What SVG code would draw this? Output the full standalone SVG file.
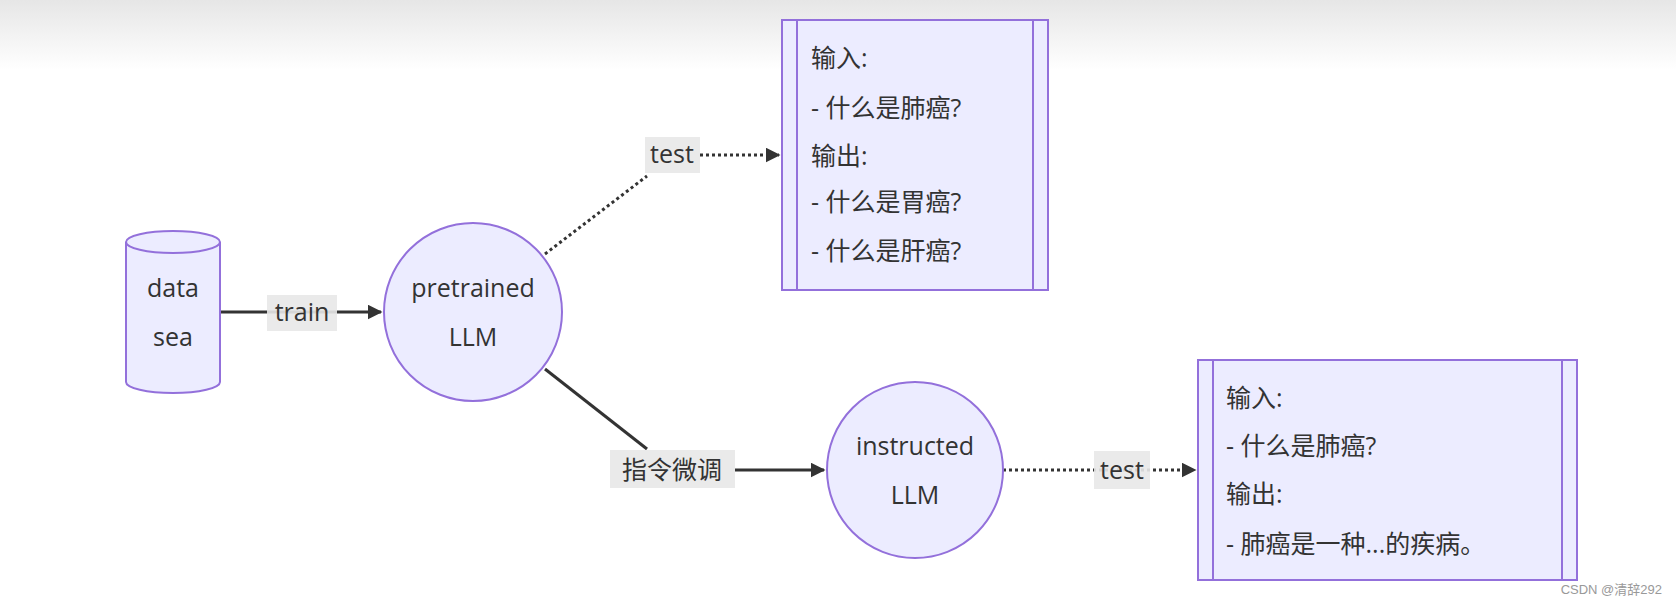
<svg xmlns="http://www.w3.org/2000/svg" width="1676" height="604" viewBox="0 0 1676 604">
<defs>
<linearGradient id="top" x1="0" y1="0" x2="0" y2="1"><stop offset="0" stop-color="#e6e6e6"/><stop offset="1" stop-color="#ffffff"/></linearGradient>
<marker id="ah" viewBox="0 0 10 10" refX="9" refY="5" markerWidth="5" markerHeight="5" orient="auto"><path d="M0,0 L10,5 L0,10 z" fill="#333"/></marker>
</defs>
<style>
.n{fill:#ECECFF;stroke:#9370DB;stroke-width:2}
.t{font-family:"Open Sans","Noto Sans","Noto Sans CJK SC",sans-serif;font-size:25px;fill:#333}
.c{text-anchor:middle}
.e{stroke:#333;stroke-width:3;fill:none}
.d{stroke-dasharray:3,3}
.lb{fill:#e8e8e8;opacity:0.9}
</style>
<rect x="0" y="0" width="1676" height="70" fill="url(#top)"/>
<rect x="0" y="70" width="1676" height="534" fill="#fff"/>
<g id="connectors">
<path class="e" d="M220,312 L381,312" marker-end="url(#ah)"/>
<path class="e d" d="M545,254 L647,176"/>
<path class="e d" d="M700,155 L779,155" marker-end="url(#ah)"/>
<path class="e" d="M545,369 L647,449"/>
<path class="e" d="M735,470 L824,470" marker-end="url(#ah)"/>
<path class="e d" d="M1003,470 L1195,470" marker-end="url(#ah)"/>
<rect class="lb" x="267" y="295" width="70" height="36"/>
<text class="t c" x="302" y="321">train</text>
<rect class="lb" x="645" y="137" width="55" height="36"/>
<text class="t c" x="672" y="163">test</text>
<rect class="lb" x="610" y="450" width="125" height="38"/>
<text class="t c" x="672" y="479">指令微调</text>
<rect class="lb" x="1094" y="451" width="56" height="38"/>
<text class="t c" x="1122" y="479">test</text>
</g>
<g id="data_sea">
<path class="n" d="M126,242 A47,11 0 0 1 220,242 L220,382 A47,11 0 0 1 126,382 Z"/>
<path class="n" d="M126,242 A47,11 0 0 0 220,242" fill="none"/>
<text class="t c" x="173" y="297">data</text>
<text class="t c" x="173" y="346">sea</text>
</g>
<g id="pretrained">
<circle class="n" cx="473" cy="312" r="89"/>
<text class="t c" x="473" y="297">pretrained</text>
<text class="t c" x="473" y="346">LLM</text>
</g>
<g id="instructed">
<circle class="n" cx="915" cy="470" r="88"/>
<text class="t c" x="915" y="455">instructed</text>
<text class="t c" x="915" y="504">LLM</text>
</g>
<g id="test1">
<rect class="n" x="782" y="20" width="266" height="270"/>
<line x1="797" y1="20" x2="797" y2="290" stroke="#9370DB" stroke-width="2"/>
<line x1="1033" y1="20" x2="1033" y2="290" stroke="#9370DB" stroke-width="2"/>
<text class="t" x="811" y="67">输入:</text>
<text class="t" x="811" y="117">- 什么是肺癌?</text>
<text class="t" x="811" y="165">输出:</text>
<text class="t" x="811" y="211">- 什么是胃癌?</text>
<text class="t" x="811" y="260">- 什么是肝癌?</text>
</g>
<g id="test2">
<rect class="n" x="1198" y="360" width="379" height="220"/>
<line x1="1213" y1="360" x2="1213" y2="580" stroke="#9370DB" stroke-width="2"/>
<line x1="1562" y1="360" x2="1562" y2="580" stroke="#9370DB" stroke-width="2"/>
<text class="t" x="1226" y="407">输入:</text>
<text class="t" x="1226" y="455">- 什么是肺癌?</text>
<text class="t" x="1226" y="503">输出:</text>
<text class="t" x="1226" y="553">- 肺癌是一种...的疾病。</text>
</g>
<text x="1662" y="594" text-anchor="end" font-family="'Liberation Sans','Noto Sans CJK SC',sans-serif" font-size="13" fill="#999">CSDN @清辞292</text>
</svg>
